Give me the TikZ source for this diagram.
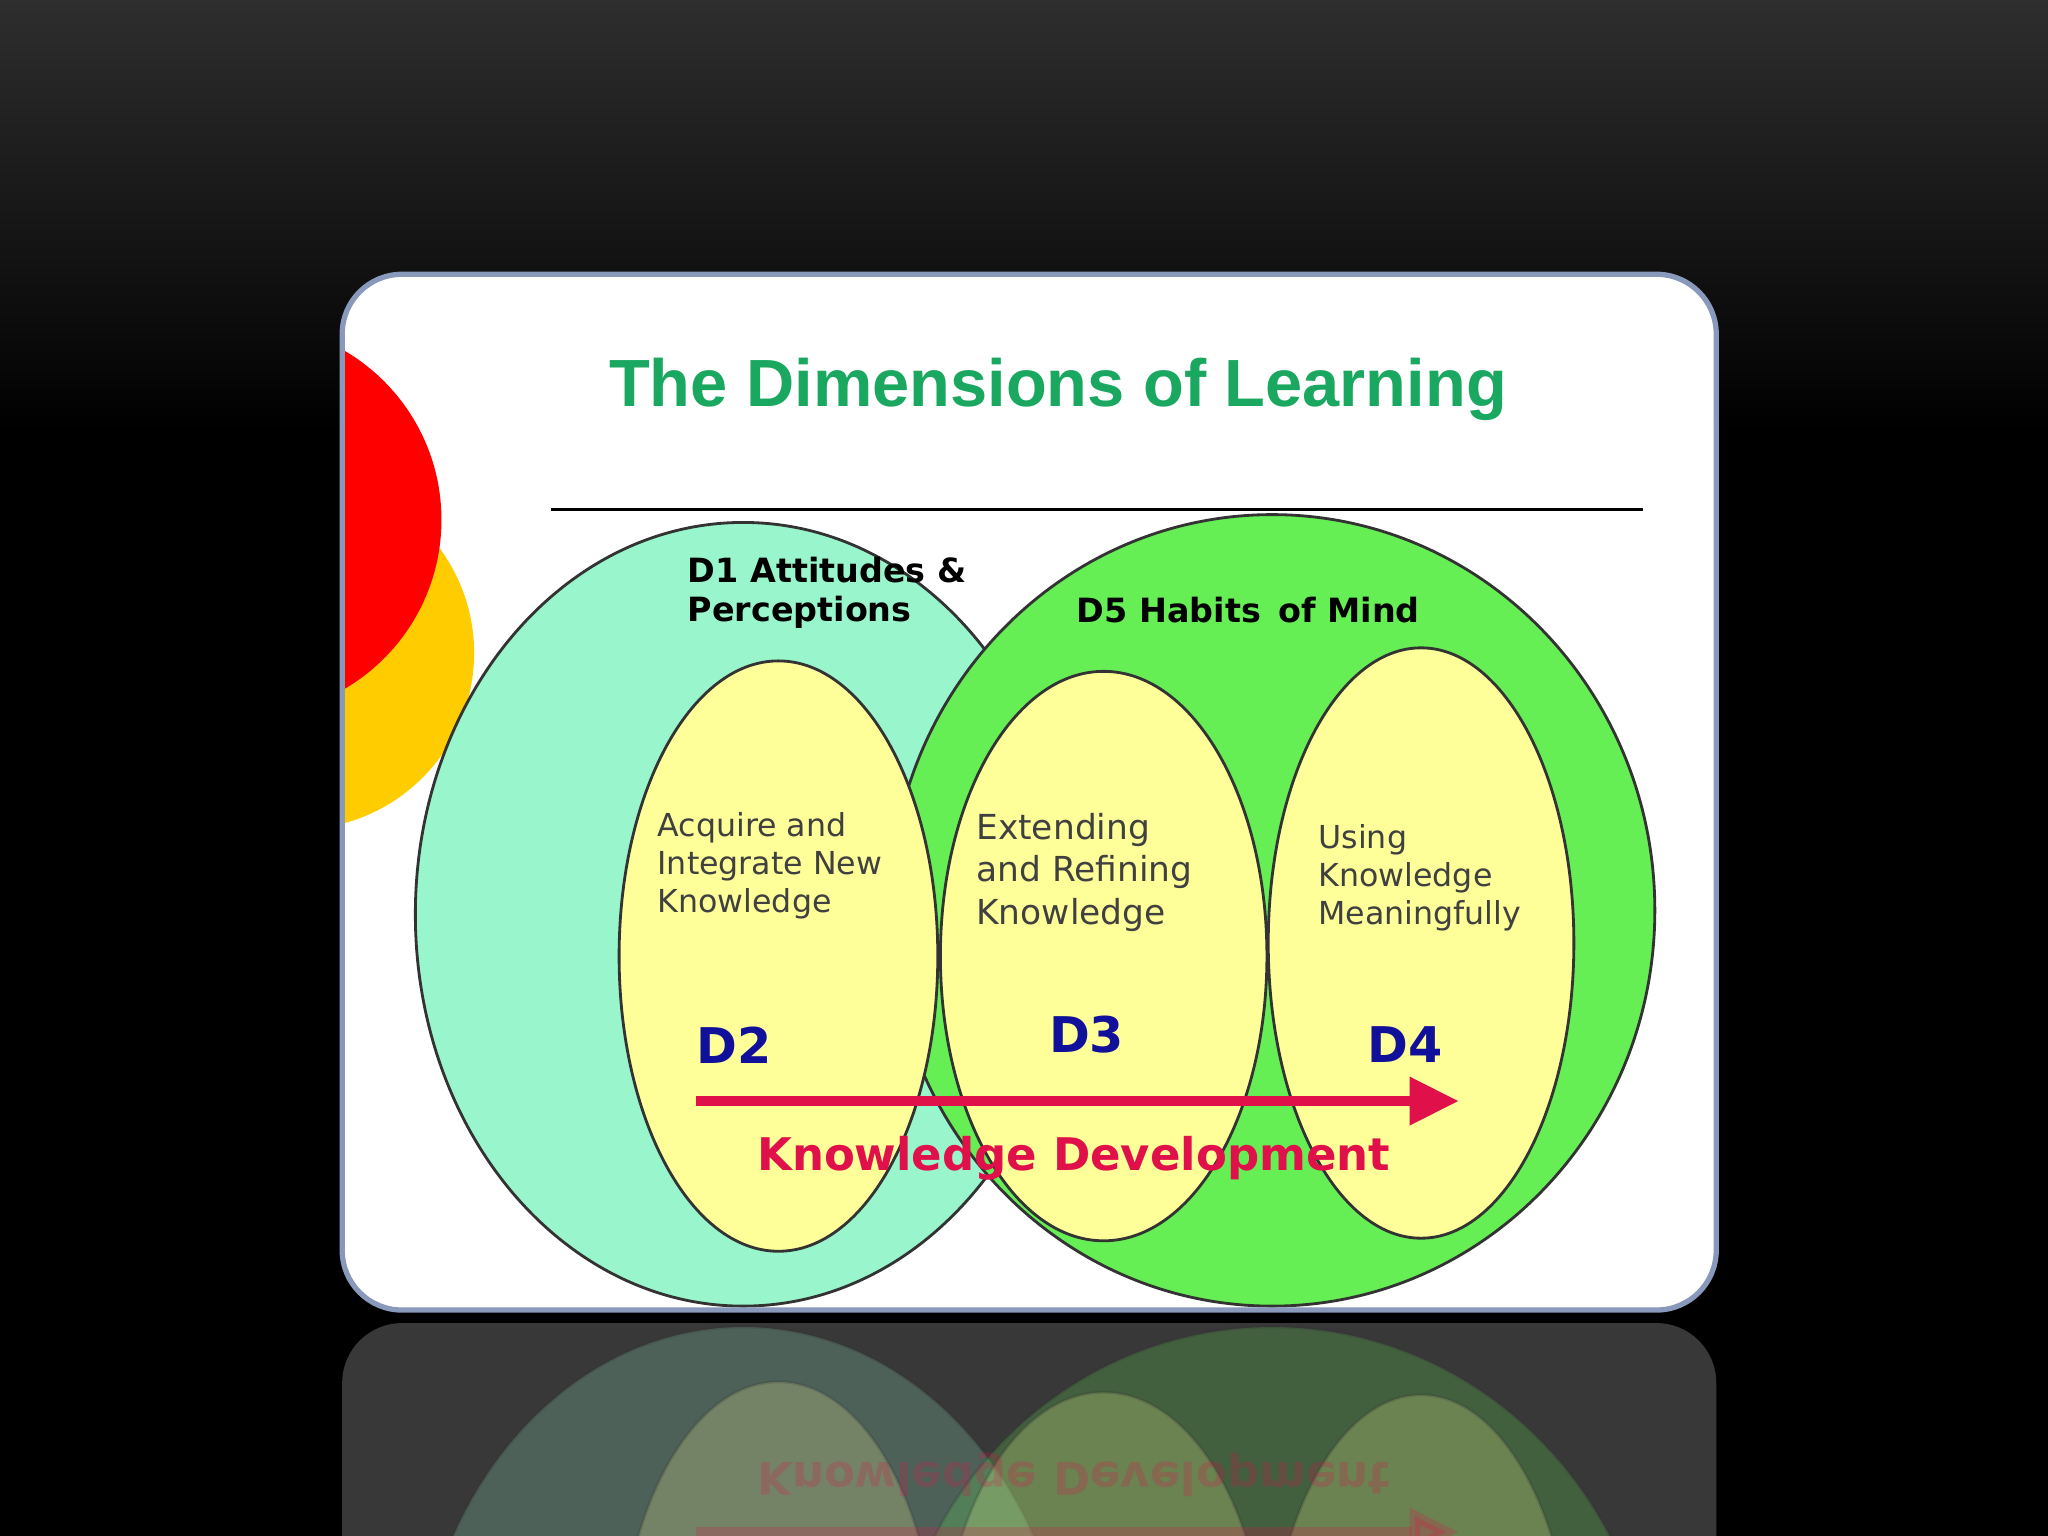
\documentclass[tikz,border=0pt]{standalone}
\usepackage{fontspec}
\setmainfont{DejaVu Sans}
\newfontfamily\titlefont{Liberation Sans}
\usetikzlibrary{arrows.meta}
\definecolor{aqua}{HTML}{99F5CC}
\definecolor{brightgreen}{HTML}{66EE55}
\definecolor{paleyellow}{HTML}{FFFF99}
\definecolor{titlegreen}{HTML}{1AA860}
\definecolor{crimson}{HTML}{E0104A}
\definecolor{dblue}{HTML}{10109A}
\definecolor{cardedge}{HTML}{8899BB}
\tikzset{
  ell/.style={draw=black!80, line width=0.8pt, fill=paleyellow},
  big/.style={draw=black!80, line width=0.8pt},
  hdr/.style={font=\bfseries\fontsize{9.5}{11}\selectfont, align=left, anchor=west},
  body/.style={font=\fontsize{9}{10.8}\selectfont, text=black!75, align=left, anchor=west},
  dlab/.style={font=\bfseries\fontsize{14}{16}\selectfont, text=dblue},
  card/.style={rounded corners=17pt},
}
\newcommand{\diagcontent}{%
  \fill[white,card] (262,210) rectangle (1314,1003);
  \begin{scope}
    \clip[card] (262,210) rectangle (1314,1003);
    \fill[orange!40!yellow] (228,500) circle[radius=135];
    \fill[red] (188,398) circle[radius=150];
  \end{scope}
  \node[font=\titlefont\bfseries\fontsize{19}{22}\selectfont, text=titlegreen] (title) at (810,298) {The Dimensions of Learning};
  \coordinate (l1) at (422,390); \coordinate (l2) at (1258,390);
  \draw[line width=0.8pt] (l1) -- (l2);
  \draw[big, fill=aqua] (569,700) ellipse[x radius=251, y radius=300];
  \draw[big, fill=brightgreen] (974,697) ellipse[x radius=293, y radius=303];
  \draw[ell] (596,732) ellipse[x radius=122, y radius=226];
  \draw[ell] (845,732) ellipse[x radius=125, y radius=218];
  \draw[ell] (1088,722) ellipse[x radius=117, y radius=226];
  \node[hdr] (d1) at (517,454) {D1 Attitudes \&\\Perceptions};
  \node[hdr] (d5) at (815,467) {D5 Habits\, of Mind};
  \node[body] (t2) at (494,663) {Acquire and\\Integrate New\\Knowledge};
  \node[body, font=\fontsize{9.8}{12}\selectfont] (t3) at (738,668) {Extending\\and Refining\\Knowledge};
  \node[body] (t4) at (1000,672) {Using\\Knowledge\\Meaningfully};
  \node[dlab] (D2) at (562,800) {D2};
  \node[dlab] (D3) at (832,792) {D3};
  \node[dlab] (D4) at (1076,800) {D4};
  \coordinate (a1) at (533,843); \coordinate (a2) at (1117,843);
  \draw[crimson, line width=3pt, -{Triangle[length=14pt,width=13pt]}] (a1) -- (a2);
  \node[font=\bfseries\fontsize{12.8}{15}\selectfont, text=crimson] (kd) at (822,887) {Knowledge Development};
}
\begin{document}
\begin{tikzpicture}[x=0.013061cm, y=-0.013061cm]
  \useasboundingbox (0,0) rectangle (1568,1176);
  \fill[black] (0,0) rectangle (1568,1176);
  \shade[top color=black!82, bottom color=black] (0,0) rectangle (1568,330);
  \diagcontent
  \draw[cardedge, line width=1.5pt, card] (262,210) rectangle (1314,1003);
  \begin{scope}
    \clip (0,1008) rectangle (1568,1176);
    \begin{scope}[shift={(0,2016)}, yscale=-1, transform shape, opacity=0.22]
      \diagcontent
    \end{scope}
  \end{scope}
\end{tikzpicture}
\end{document}
